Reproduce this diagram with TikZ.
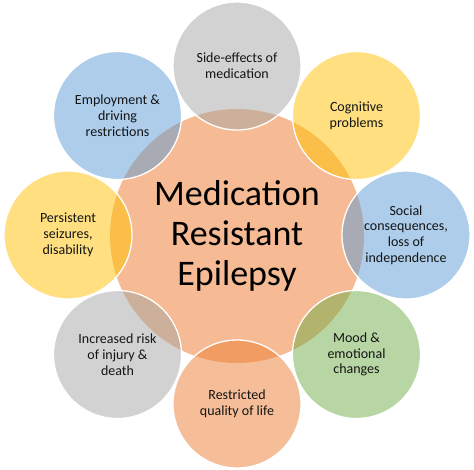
\documentclass[tikz,border=0pt]{standalone}
\usepackage{fontspec}
\setmainfont{Carlito}
\definecolor{cOrange}{HTML}{ED7D31}
\definecolor{cGray}{HTML}{A5A5A5}
\definecolor{cYellow}{HTML}{FFC000}
\definecolor{cBlue}{HTML}{5B9BD5}
\definecolor{cGreen}{HTML}{70AD47}
\tikzset{
  hub/.style={circle, minimum size=254pt, inner sep=0pt, fill=cOrange, fill opacity=0.52, text opacity=1,
    align=center, font=\fontsize{36}{40}\selectfont, text=black},
  sat/.style={circle, minimum size=128pt, inner sep=0pt, fill opacity=0.5, text opacity=1,
    draw=white, line width=1.3pt, align=center, font=\fontsize{14}{15.8}\selectfont, text=black!92}
}
\begin{document}
\begin{tikzpicture}[x=1pt,y=-1pt]
\useasboundingbox (0,0) rectangle (474,469);
\node[hub] (hub) at (237,236) {Medication\\Resistant\\Epilepsy};
\node[sat, fill=cGray]   (top) at (237,66) {Side-effects of\\medication};
\node[sat, fill=cYellow] (ur)  at (356.5,115.5) {Cognitive\\problems};
\node[sat, fill=cBlue]   (r)   at (406,235) {Social\\consequences,\\loss of\\independence};
\node[sat, fill=cGreen]  (lr)  at (356.5,354.5) {Mood \&\\emotional\\changes};
\node[sat, fill=cOrange] (bot) at (237,404) {Restricted\\quality of life};
\node[sat, fill=cGray]   (ll)  at (117.5,354.5) {Increased risk\\of injury \&\\death};
\node[sat, fill=cYellow] (l)   at (68,235) {Persistent\\seizures,\\disability};
\node[sat, fill=cBlue]   (ul)  at (117.5,115.5) {Employment \&\\driving\\restrictions};
\end{tikzpicture}
\end{document}
